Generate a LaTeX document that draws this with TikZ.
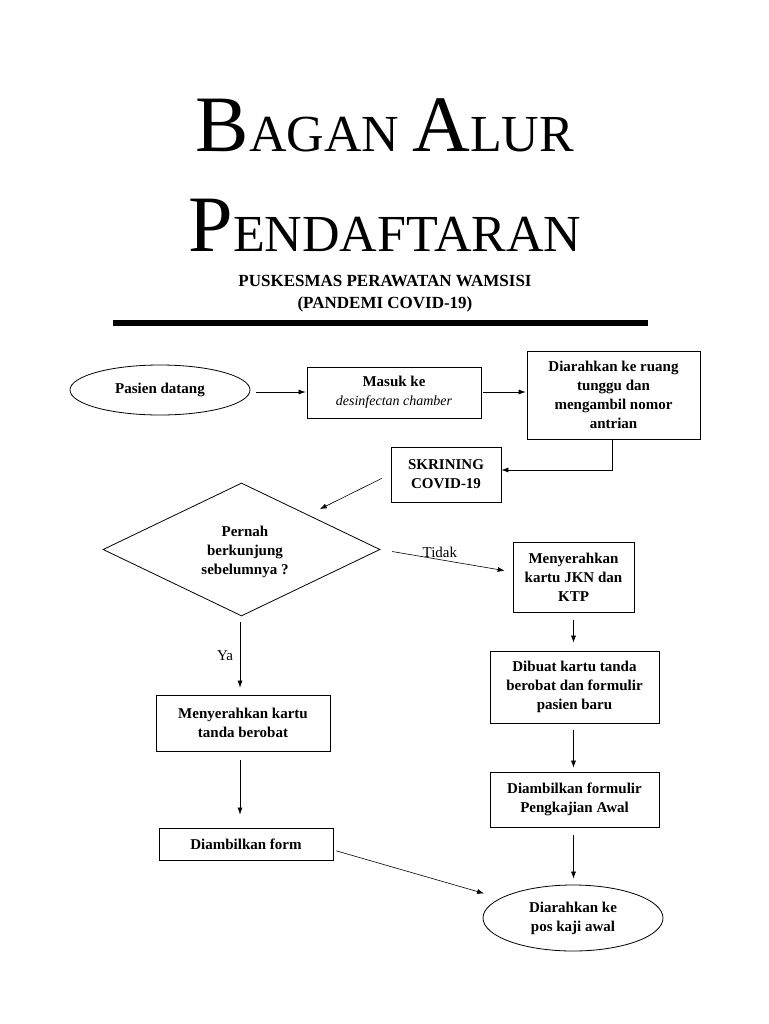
\documentclass[tikz,border=0pt]{standalone}
\usepackage{fontspec}
\setmainfont{Liberation Serif}
\usetikzlibrary{arrows.meta,shapes.geometric}
\begin{document}
\begin{tikzpicture}[x=1pt,y=-1pt,
  txt/.style={font=\fontsize{15}{19}\selectfont\bfseries, align=center, inner sep=0pt},
  plain/.style={font=\fontsize{15}{19}\selectfont, align=center, inner sep=0pt},
  bx/.style={draw, line width=0.8pt},
  arr/.style={-{Latex[length=7pt,width=5pt]}, line width=0.6pt}]
\useasboundingbox (0,0) rectangle (768,1024);
% title
\node[inner sep=0] at (385,125) {\fontsize{80}{80}\selectfont B\fontsize{52}{52}\selectfont AGAN \fontsize{80}{80}\selectfont A\fontsize{52}{52}\selectfont LUR};
\node[inner sep=0] at (385,225) {\fontsize{80}{80}\selectfont P\fontsize{52}{52}\selectfont ENDAFTARAN};
\node[txt,font=\fontsize{17}{22}\selectfont\bfseries] at (385,294) {PUSKESMAS PERAWATAN WAMSISI\\(PANDEMI COVID-19)};
\fill (113,320) rectangle (648,326);
% nodes
\node[draw, ellipse, line width=0.8pt, minimum width=180, minimum height=50, txt] (pd) at (160,390) {Pasien datang};
\node[bx, minimum width=174, minimum height=51] (mk) at (394,392.5) {};
\node[txt] at (394,392.5) {Masuk ke\\{\mdseries\itshape\fontsize{14}{18}\selectfont desinfectan chamber}};
\node[bx, minimum width=173, minimum height=88, txt] (dr) at (613.5,395) {Diarahkan ke ruang\\tunggu dan\\mengambil nomor\\antrian};
\node[bx, minimum width=110, minimum height=55, txt] (sk) at (446,474.5) {SKRINING\\COVID-19};
\node[draw, diamond, aspect=2.08, line width=0.8pt, minimum width=277, minimum height=133, inner sep=0] (dm) at (241.5,549.5) {};
\node[txt] at (245,552) {Pernah\\berkunjung\\sebelumnya ?};
\node[bx, minimum width=121, minimum height=70, txt] (jkn) at (573.5,577) {Menyerahkan\\kartu JKN dan\\KTP};
\node[bx, minimum width=169, minimum height=72, txt] (db) at (574.5,687) {Dibuat kartu tanda\\berobat dan formulir\\pasien baru};
\node[bx, minimum width=169, minimum height=55, txt] (df) at (574.5,799.5) {Diambilkan formulir\\Pengkajian Awal};
\node[draw, ellipse, line width=0.8pt, minimum width=180, minimum height=66, txt] (pk) at (573,918) {Diarahkan ke\\pos kaji awal};
\node[bx, minimum width=174, minimum height=56, txt] (kt) at (243,723) {Menyerahkan kartu\\tanda berobat};
\node[bx, minimum width=174, minimum height=32, txt] (fm) at (246,844) {Diambilkan form};
% arrows
\draw[arr, shorten <=6pt, shorten >=1pt] (pd.east |- 0,392) -- (mk.west |- 0,392);
\draw[arr, shorten <=2pt, shorten >=1pt] (mk.east |- 0,392) -- (dr.west |- 0,392);
\coordinate (c1) at (612,470);
\draw[arr] (dr.south -| c1) -- (c1) -- (sk.east |- c1);
\draw[arr, shorten <=10pt, shorten >=2pt] (sk.west |- 0,474) -- (318,510);
\draw[arr, shorten <=12pt, shorten >=8pt] (dm.east) -- (jkn.west |- 0,572) node[pos=0.45, above=2pt, plain] {Tidak};
\draw[arr, shorten <=6pt, shorten >=7pt] (240,616) -- (kt.north -| 240,0) ;
\node[plain] at (225,656) {Ya};
\draw[arr, shorten <=8pt, shorten >=8pt] (jkn.south) -- (db.north -| jkn.south);
\draw[arr, shorten <=7pt, shorten >=4pt] (db.south -| jkn.south) -- (df.north -| jkn.south);
\draw[arr, shorten <=8pt, shorten >=6pt] (df.south -| jkn.south) -- (pk.north -| jkn.south);
\draw[arr, shorten <=9pt, shorten >=13pt] (kt.south -| 240,0) -- (fm.north -| 240,0);
\draw[arr, shorten <=3pt, shorten >=2pt] (fm.east |- 0,850) -- (486,894);
\end{tikzpicture}
\end{document}
